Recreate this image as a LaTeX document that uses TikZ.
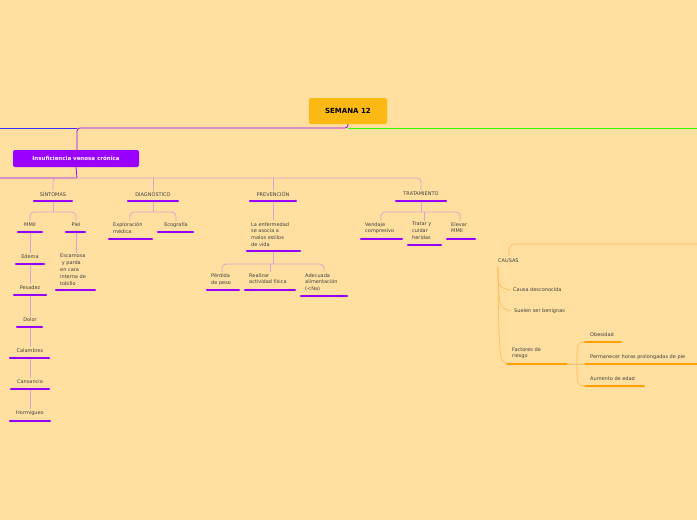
\documentclass[tikz,border=0pt]{standalone}
\usepackage{fontspec}
\setmainfont{DejaVu Sans}
\definecolor{bg}{HTML}{FFE0A0}
\definecolor{pur}{HTML}{9900FF}
\definecolor{pnk}{HTML}{E0A0D0}
\definecolor{org}{HTML}{FFA000}
\definecolor{lorg}{HTML}{FFC060}
\definecolor{semana}{HTML}{FDB913}
\begin{document}
\begin{tikzpicture}[x=1pt,y=-1pt,
  t/.style={font=\fontsize{5}{6.8}\selectfont,text=black!75,inner sep=0pt,align=left},
  tl/.style={t,anchor=west},
  bar/.style={pur,line width=2.2pt,line cap=round},
  obar/.style={org,line width=2pt,line cap=round},
  pl/.style={pnk,line width=0.8pt,rounded corners=4pt},
  ol/.style={lorg,line width=0.8pt,rounded corners=6pt}]
\fill[bg] (0,0) rectangle (697,520);
\useasboundingbox (0,0) rectangle (697,520);
% top
\node[fill=semana,rounded corners=2pt,minimum width=78pt,minimum height=26pt,font=\bfseries\fontsize{7}{8}\selectfont] (sem) at (348,111) {SEMANA 12};
\coordinate (j) at (348,128);
\draw[blue!80,line width=0.8pt] (0,128) -- (77,128);
\draw[pur,line width=0.8pt,rounded corners=3pt] (77,150) -- (77,128) -- (j) -- (sem.south);
\draw[green!80!yellow,line width=0.8pt] (j) -- (697,128);
\node[fill=pur,rounded corners=2pt,minimum width=126pt,minimum height=17pt,text=white,font=\bfseries\fontsize{5.5}{6}\selectfont] (ivc) at (76,158.5) {Insuficiencia venosa crónica};
\draw[pur,line width=0.8pt] (0,178) -- (77,178) (ivc.south) -- (77,178);
\draw[pl] (53,190) -- (53,178) -- (421,178) -- (421,190);
\draw[pl] (153,190) -- (153,178);
\draw[pl] (273,190) -- (273,178);
% level 2
\node[t] (sin) at (53,194) {SÍNTOMAS}; \draw[bar] (34,201) -- (72,201);
\node[t] (dia) at (153,194) {DIAGNÓSTICO}; \draw[bar] (128,201) -- (178,201);
\node[t] (pre) at (273,194) {PREVENCIÓN}; \draw[bar] (250,201) -- (296,201);
\node[t] (tra) at (421,194) {TRATAMIENTO}; \draw[bar] (396,201) -- (446,201);
% sintomas
\draw[pl] (30,221) -- (30,212) -- (76,212) -- (76,221); \draw[pl] (53,202) -- (53,212);
\node[t] (mmii) at (30,225) {MMII}; \draw[bar] (18,232) -- (42,232);
\node[t] (piel) at (76,225) {Piel}; \draw[bar] (66,232) -- (85,232);
\node[t] (ede) at (30,257) {Edema}; \draw[bar] (16,264) -- (44,264);
\node[t] (pes) at (30,288) {Pesadez}; \draw[bar] (14,295) -- (46,295);
\node[t] (dol) at (30,320) {Dolor}; \draw[bar] (17,327) -- (42,327);
\node[t] (cal) at (30,351) {Calambres}; \draw[bar] (10,358) -- (49,358);
\node[t] (can) at (30,382) {Cansancio}; \draw[bar] (11,389) -- (49,389);
\node[t] (hor) at (30,413) {Hormigueo}; \draw[bar] (10,421) -- (50,421);
\foreach \a/\b in {233/253,265/284,296/316,328/347,359/378,390/409} \draw[pnk,line width=0.8pt] (30,\a) -- (30,\b);
\node[t,anchor=north west] (esc) at (60,254) {Escamosa\\\ y parda\\en cara\\interna de\\tobillo}; \draw[bar] (56,290) -- (95,290);
\draw[pnk,line width=0.8pt] (76,233) -- (76,253);
% diagnostico
\draw[pl] (130,221) -- (130,212) -- (176,212) -- (176,221); \draw[pl] (153,202) -- (153,212);
\node[t,anchor=north west] (exp) at (113,222) {Exploración\\médica}; \draw[bar] (109,239) -- (152,239);
\node[t] (eco) at (176,225) {Ecografía}; \draw[bar] (158,232) -- (193,232);
% prevencion
\draw[pnk,line width=0.8pt] (273,202) -- (273,220);
\node[t,anchor=north west] (enf) at (251,222) {La enfermedad\\se asocia a\\malos estilos\\de vida}; \draw[bar] (247,251) -- (300,251);
\draw[pl] (222,272) -- (222,264) -- (324,264) -- (324,272); \draw[pl] (273,252) -- (273,264); \draw[pl] (270,264) -- (270,272);
\node[t,anchor=north west] (per) at (211,273) {Pérdida\\de peso}; \draw[bar] (207,290) -- (239,290);
\node[t,anchor=north west] (rea) at (249,273) {Realizar\\actividad física}; \draw[bar] (245,290) -- (295,290);
\node[t,anchor=north west] (ade) at (305,273) {Adecuada\\alimentación\\(<Na)}; \draw[bar] (301,296) -- (347,296);
% tratamiento
\draw[pl] (381,221) -- (381,212) -- (460,212) -- (460,221); \draw[pl] (421,202) -- (421,212); \draw[pl] (424,212) -- (424,221);
\node[t,anchor=north west] (ven) at (365,222) {Vendaje\\compresivo}; \draw[bar] (361,239) -- (402,239);
\node[t,anchor=north west] (tcu) at (412,222) {Tratar y\\cuidar\\heridas}; \draw[bar] (408,245) -- (441,245);
\node[t,anchor=north west] (ele) at (451,222) {Elevar\\MMII}; \draw[bar] (447,239) -- (475,239);
% causas
\draw[ol] (509,256) -- (509,244) -- (697,244);
\node[tl] (cau) at (498,261) {CAUSAS};
\draw[lorg,line width=0.8pt] (498,267) .. controls (498,287) .. (510,290);
\draw[lorg,line width=0.8pt] (498,267) .. controls (499,308) .. (511,311);
\draw[lorg,line width=0.8pt] (498,267) .. controls (499,360) .. (507,364);
\node[tl] (cd) at (513,290) {Causa desconocida};
\node[tl] (sb) at (514,311) {Suelen ser benignas};
\node[t,anchor=north west] (fr) at (512,347) {Factores de\\riesgo}; \draw[obar] (507,364) -- (567,364);
\draw[lorg,line width=0.8pt] (567,364) -- (585,364);
\draw[lorg,line width=0.8pt] (577,364) .. controls (577,343) .. (585,342);
\draw[lorg,line width=0.8pt] (577,364) .. controls (577,385) .. (585,386);
\node[tl] (obe) at (590,335) {Obesidad}; \draw[obar] (585,342) -- (621,342);
\node[tl] (ph) at (590,357) {Permanecer horas prolongadas de pie}; \draw[obar] (585,364) -- (697,364);
\node[tl] (ae) at (590,379) {Aumento de edad}; \draw[obar] (585,386) -- (644,386);
\end{tikzpicture}
\end{document}
